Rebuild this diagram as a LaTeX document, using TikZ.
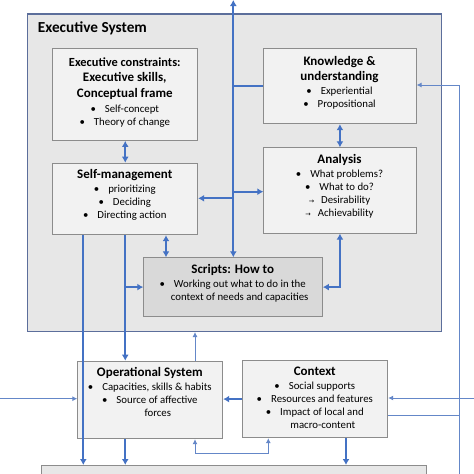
\documentclass[tikz,border=0pt]{standalone}
\usepackage{fontspec}
\setmainfont{Carlito}
\newfontfamily\symfont{DejaVu Sans}
\usetikzlibrary{arrows.meta}
\definecolor{arrowblue}{RGB}{68,114,196}
\definecolor{thinblue}{RGB}{100,135,200}
\definecolor{esfill}{RGB}{231,231,231}
\definecolor{esborder}{RGB}{92,110,155}
\definecolor{boxfill}{RGB}{242,242,242}
\definecolor{boxborder}{RGB}{140,140,140}
\definecolor{scfill}{RGB}{217,217,217}
\tikzset{
  esbox/.style={draw=esborder, fill=esfill, line width=1.3pt, anchor=north west, inner sep=0pt},
  ibox/.style={draw=boxborder, fill=boxfill, line width=0.9pt, anchor=north west, inner sep=0pt},
  scbox/.style={ibox, fill=scfill},
  txt/.style={align=center, inner sep=0pt, anchor=north, font=\fontsize{10.8}{13}\selectfont},
  thickarr/.style={draw=arrowblue, line width=2.3pt, -{Latex[length=6pt,width=7pt]}},
  thickdbl/.style={draw=arrowblue, line width=2.3pt, {Latex[length=6pt,width=7pt]}-{Latex[length=6pt,width=7pt]}},
  thickline/.style={draw=arrowblue, line width=2.3pt},
  thinarr/.style={draw=thinblue, line width=0.9pt, -{Latex[length=5pt,width=5pt]}},
  thinline/.style={draw=thinblue, line width=0.9pt},
}
\newcommand{\hd}[1]{{\bfseries\fontsize{13}{13}\selectfont #1}}
\newcommand{\hds}[1]{{\bfseries\fontsize{12.4}{13}\selectfont #1}}
\newcommand{\bl}[1]{•\hspace{9pt}#1}
\newcommand{\ar}[1]{{\symfont\fontsize{6.5}{6}\selectfont →}\hspace{7pt}#1}
\begin{document}
\begin{tikzpicture}[x=1pt,y=-1pt]
\useasboundingbox (0,0) rectangle (474,474);
\clip (0,0) rectangle (474,474);
\fill[white] (0,0) rectangle (474,474);
% boxes
\node[esbox, minimum width=414.3pt, minimum height=317.4pt] (es) at (26.7,13.3) {};
\node[anchor=west, inner sep=0pt, font=\bfseries\fontsize{15.3}{16}\selectfont] (estitle) at (37.7,28.5) {Executive System};
\node[ibox, minimum width=145pt, minimum height=91.7pt] (ec) at (52.3,48.3) {};
\node[ibox, minimum width=152.4pt, minimum height=75pt] (ku) at (263.3,48.3) {};
\node[ibox, minimum width=152.4pt, minimum height=85.4pt] (an) at (263.3,147.3) {};
\node[ibox, minimum width=145pt, minimum height=71.6pt] (sm) at (52.3,162.7) {};
\node[scbox, minimum width=178.7pt, minimum height=58.7pt] (sc) at (143.3,257.3) {};
\node[ibox, minimum width=145pt, minimum height=77.6pt] (op) at (77.3,360.7) {};
\node[ibox, minimum width=145pt, minimum height=77.3pt] (cx) at (242.3,360) {};
\node[ibox, fill=esfill, minimum width=385pt, minimum height=30pt] (bt) at (40.7,465) {};
% texts
\node[txt] (ect) at (124.8,57.5) {\hds{Executive constraints:}\\[2.3pt]\hd{Executive skills,}\\[2.3pt]\hd{Conceptual frame}\\[2.3pt]\bl{Self-concept}\\\bl{Theory of change}};
\node[txt] (kut) at (339.5,56) {\hd{Knowledge \&}\\[2.3pt]\hd{understanding}\\[1pt]\bl{Experiential}\\\bl{Propositional}};
\node[txt] (ant) at (339.5,154) {\hd{Analysis}\\[1pt]\bl{What problems?}\\\bl{What to do?}\\\ar{Desirability}\\\ar{Achievability}};
\node[txt] (smt) at (124.8,169.5) {\hd{Self-management}\\[1pt]\bl{prioritizing}\\\bl{Deciding}\\\bl{Directing action}};
\node[txt] (sct) at (232.7,264) {\hd{Scripts: How to}\\[1pt]\bl{Working out what to do in the}\\\hspace*{14pt}context of needs and capacities};
\node[txt] (opt) at (149.8,367) {\hd{Operational System}\\[1pt]\bl{Capacities, skills \& habits}\\\bl{Source of affective}\\\hspace*{16pt}forces};
\node[txt] (cxt) at (314.8,366.5) {\hd{Context}\\[1pt]\bl{Social supports}\\\bl{Resources and features}\\\bl{Impact of local and}\\\hspace*{16pt}macro-content};
% coordinates
\coordinate (top) at (233.3,0);
\coordinate (jk) at (233.3,86);
\coordinate (ja) at (233.3,191.7);
\coordinate (js) at (233.3,198.3);
\coordinate (x1) at (166,0);
\coordinate (x2) at (83.3,0);
\coordinate (x3) at (195,0);
\coordinate (x4) at (268.3,0);
\coordinate (x5) at (346,0);
\coordinate (jb) at (233.3,453.3);
\coordinate (lin) at (0,398.7);
\coordinate (rin) at (474,398);
\coordinate (rb) at (459,474);
\coordinate (ry) at (459,85);
\coordinate (rc) at (459,415.7);
% executive connectors
\draw[thickdbl] (top) -- (top |- sc.north);
\draw[thickline] (jk) -- (jk -| ku.west);
\draw[thickarr] (ja) -- (ja -| an.west);
\draw[thickarr] (js) -- (js -| sm.east);
\draw[thickdbl] (ec.south) -- (sm.north);
\draw[thickdbl] (ku.south) -- (an.north);
\draw[thickdbl] (x1 |- sm.south) -- (x1 |- sc.north);
\draw[thickdbl] (an.south) |- (sc.east);
% downward
\draw[thickarr] (x2 |- sm.south) -- (x2 |- bt.north);
\draw[thickarr] (sm.south) -- (sm.south |- op.north);
\draw[thickarr] (sm.south |- sc.west) -- (sc.west);
\draw[thickarr] (sm.south |- op.south) -- (sm.south |- bt.north);
\draw[thinarr] (x3 |- op.north) -- (x3 |- es.south);
\draw[thickarr] (cx.west) -- (cx.west -| op.east);
\draw[thinline] (jb -| bt.north) -- (jb);
\draw[thinarr] (jb) -| (x3 |- op.south);
\draw[thinarr] (jb) -| (x4 |- cx.south);
\draw[thickarr] (x5 |- cx.south) -- (x5 |- bt.north);
\draw[thinarr] (lin) -- (lin -| op.west);
\draw[thinarr] (rin) -- (rin -| cx.east);
\draw[thinarr] (rb) -- (ry) -- (ry -| ku.east);
\draw[thinline] (rc -| cx.east) -- (rc);
\end{tikzpicture}
\end{document}
